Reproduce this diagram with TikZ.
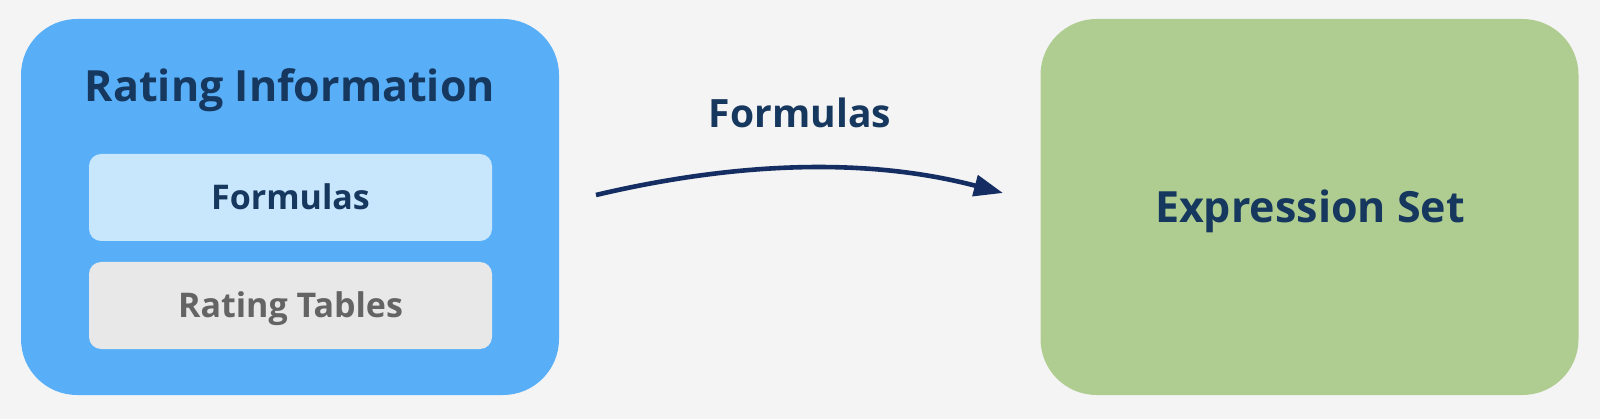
\documentclass[tikz,border=0pt]{standalone}
\usepackage{fontspec}
\setmainfont{Open Sans}
\usetikzlibrary{arrows.meta}
\definecolor{bg}{RGB}{244,244,244}
\definecolor{bluebox}{RGB}{88,175,247}
\definecolor{lightblue}{RGB}{200,230,252}
\definecolor{graybox}{RGB}{232,232,232}
\definecolor{greenbox}{RGB}{176,205,145}
\definecolor{navy}{RGB}{22,55,94}
\definecolor{graytext}{RGB}{100,100,100}
\definecolor{arrowc}{RGB}{20,45,98}
\tikzset{
  outerbox/.style={rounded corners=56pt, inner sep=0pt, minimum width=538pt, minimum height=376pt},
  innerbox/.style={rounded corners=12pt, inner sep=0pt, minimum width=403pt, minimum height=87pt},
  txt/.style={anchor=base, inner sep=0pt, text=navy},
}
\begin{document}
\begin{tikzpicture}[x=1pt,y=-1pt]
\useasboundingbox (0,0) rectangle (1600,419);
\fill[bg] (0,0) rectangle (1600,419);
\node[outerbox, fill=bluebox] (rating) at (290,207) {};
\node[innerbox, fill=lightblue] (formulas) at (290.5,197.5) {};
\node[innerbox, fill=graybox] (tables) at (290.5,305.5) {};
\node[outerbox, fill=greenbox] (expr) at (1309.5,207) {};
\node[txt, font=\bfseries\fontsize{43}{50}\selectfont] (ratingtitle) at (290,102) {Rating Information};
\node[txt, font=\bfseries\fontsize{34}{40}\selectfont] (formulastxt) at (290.5,209.5) {Formulas};
\node[txt, text=graytext, font=\bfseries\fontsize{34}{40}\selectfont] (tablestxt) at (290.5,317.5) {Rating Tables};
\node[txt, font=\bfseries\fontsize{43}{50}\selectfont] (exprtxt) at (1310,223) {Expression Set};
\node[txt, font=\bfseries\fontsize{39}{46}\selectfont] (flbl) at (800,128) {Formulas};
\coordinate (a1) at (596,195);
\coordinate (a2) at (1003,193);
\draw[arrowc, line width=4.6pt, -{Triangle[length=29pt,width=21pt]}] (a1) .. controls (740,161) and (870,158) .. (a2);
\end{tikzpicture}
\end{document}
